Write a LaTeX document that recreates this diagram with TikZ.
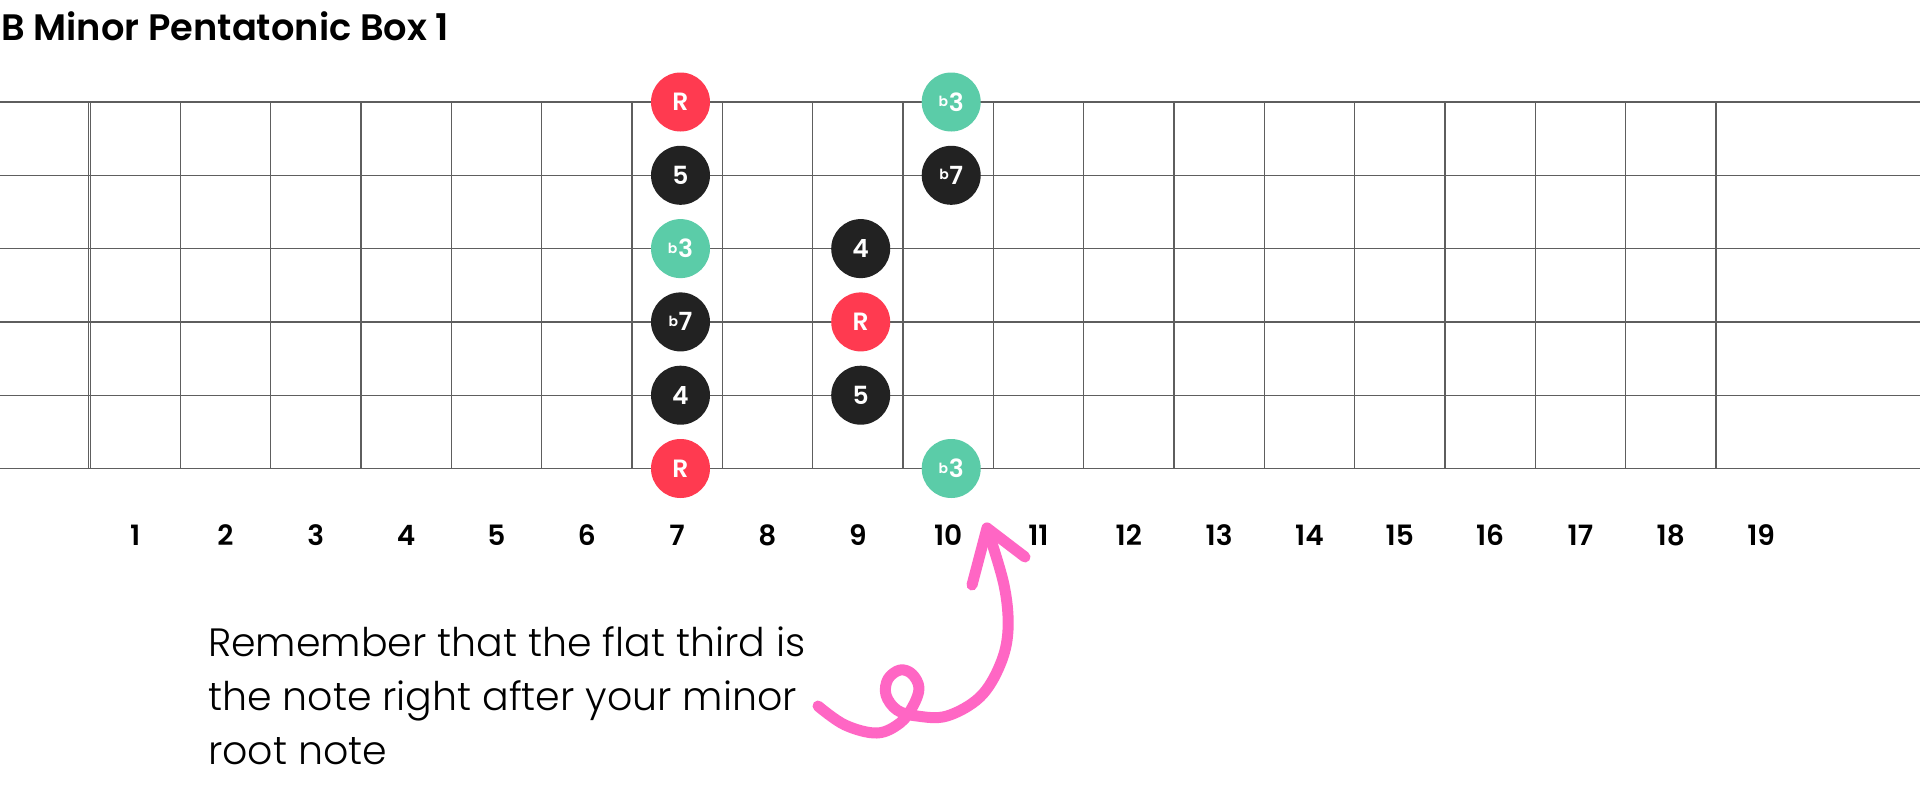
\documentclass[tikz,border=0pt]{standalone}
\usepackage{fontspec}
\setmainfont{Poppins}
\newfontfamily\semib{Poppins SemiBold}
\newfontfamily\lightf{Poppins Light}
\definecolor{rootred}{HTML}{FF3A50}
\definecolor{thirdgreen}{HTML}{5BCCA8}
\definecolor{notedark}{HTML}{222222}
\definecolor{arrowpink}{HTML}{FF66C4}
\definecolor{fretgray}{HTML}{5E5E5E}
\newcommand{\flt}[1]{{\fontsize{14}{14}\selectfont\raisebox{4.7pt}{b}}\kern0.6pt#1}
\begin{document}
\begin{tikzpicture}[x=1pt,y=-1pt,
  stringline/.style={draw=fretgray, line width=1.2pt},
  fretline/.style={draw=fretgray, line width=1.2pt},
  nutline/.style={draw=fretgray, line width=0.9pt},
  note/.style={circle, minimum size=59pt, inner sep=0pt, text=white,
    font=\semib\fontsize{25}{25}\selectfont},
  root/.style={note, fill=rootred},
  third/.style={note, fill=thirdgreen},
  plain/.style={note, fill=notedark},
  fretnum/.style={anchor=base, inner sep=0pt, font=\semib\fontsize{28}{28}\selectfont},
  titletext/.style={anchor=base west, inner sep=0pt, font=\semib\fontsize{36.8}{36.8}\selectfont},
  bodytext/.style={anchor=base west, inner sep=0pt, font=\lightf\fontsize{39.5}{39.5}\selectfont},
  pinkstroke/.style={draw=arrowpink, line width=11pt, line cap=round, line join=round}
]
\useasboundingbox[fill=white] (0,0) rectangle (1920,798);

% title
\node[titletext] (title) at (1,40) {B Minor Pentatonic Box 1};

% strings
\foreach \s in {0,...,5}
  \draw[stringline] (0,{102+73.3*\s}) -- (1920,{102+73.3*\s});

% nut
\draw[nutline] (88.2,102) -- (88.2,468.5);
\draw[nutline] (90.6,102) -- (90.6,468.5);

% frets
\foreach \k in {1,...,18}
  \draw[fretline] ({90+90.33*\k},102) -- ({90+90.33*\k},468.5);

% fret numbers
\foreach \k in {1,...,19}
  \node[fretnum] (num\k) at ({90+90.33*(\k-0.5)},545) {\k};

% notes, fret 7
\node[root]  (f7s1) at (680.5,102)   {R};
\node[plain] (f7s2) at (680.5,175.3) {5};
\node[third] (f7s3) at (680.5,248.6) {\flt{3}};
\node[plain] (f7s4) at (680.5,321.9) {\flt{7}};
\node[plain] (f7s5) at (680.5,395.2) {4};
\node[root]  (f7s6) at (680.5,468.5) {R};
% fret 9
\node[plain] (f9s3) at (860.7,248.6) {4};
\node[root]  (f9s4) at (860.7,321.9) {R};
\node[plain] (f9s5) at (860.7,395.2) {5};
% fret 10
\node[third] (f10s1) at (951.2,102)   {\flt{3}};
\node[plain] (f10s2) at (951.2,175.3) {\flt{7}};
\node[third] (f10s6) at (951.2,468.5) {\flt{3}};

% remark
\node[bodytext] (line1) at (208,656) {Remember that the flat third is};
\node[bodytext] (line2) at (208,710) {the note right after your minor};
\node[bodytext] (line3) at (208,764) {root note};

% pink curly arrow
\coordinate (arrowstart) at (818,706);
\coordinate (arrowtip) at (987,528);
\coordinate (barbleft) at (972,585);
\coordinate (barbright) at (1025,557);
\draw[pinkstroke] plot[smooth, tension=0.6] coordinates {
  (818,706) (845,725) (877,733) (900,723) (913,706) (919,688) (912,674)
  (900,670) (888,679) (886,695) (897,710) (917,716) (947,716) (980,697)
  (1000,665) (1008,630) (1004,585) (987,528)};
\draw[pinkstroke] (barbleft) -- (arrowtip) -- (barbright);
\end{tikzpicture}
\end{document}
